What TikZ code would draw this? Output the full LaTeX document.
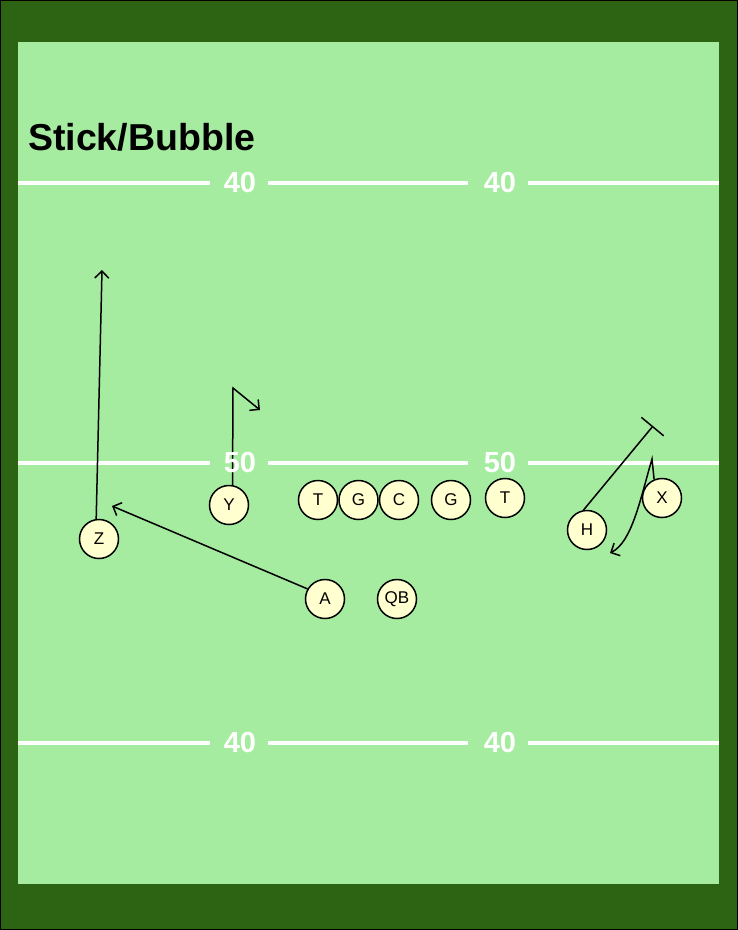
\documentclass[tikz,border=0pt]{standalone}
\usepackage{fontspec}
\setmainfont{Liberation Sans}
\usepackage{xcolor}
\definecolor{fielddark}{RGB}{45,100,20}
\definecolor{fieldlight}{RGB}{165,235,160}
\definecolor{playerfill}{RGB}{255,255,208}
\usetikzlibrary{arrows.meta,positioning}
\tikzset{
	player/.style={
		circle,
		draw=black,
		line width=1.5pt,
		fill=playerfill,
		minimum size=39pt,
		inner sep=0pt,
		font=\fontsize{17}{17}\selectfont,
	},
	yard/.style={
		draw=white,
		line width=4pt,
	},
	yardnum/.style={
		text=white,
		inner sep=0pt,
		font=\fontsize{29}{29}\selectfont\bfseries,
	},
	route/.style={
		line width=1.5pt,
		-{Straight Barb[length=7pt,width=14pt]},
	},
	block/.style={
		line width=1.5pt,
		-{Bar[width=29pt]},
	},
}
\begin{document}
\begin{tikzpicture}[x=1pt,y=-1pt]
	\useasboundingbox (0,0) rectangle (738,930);
	% field
	\draw[fill=fielddark,draw=black,line width=1pt] (0.5,0.5) rectangle (737.5,929.5);
	\fill[fieldlight] (18,42) rectangle (719,884);
	\node[anchor=base west,inner sep=0pt,font=\fontsize{37.5}{37.5}\selectfont\bfseries] (title) at (28,150) {Stick/Bubble};

	% yard lines
	\foreach \y in {183,463,743} {
		\draw[yard] (18,\y) -- (210,\y);
		\draw[yard] (268,\y) -- (468,\y);
		\draw[yard] (528,\y) -- (719,\y);
	}

	% offense
	\node[player] (lt) at (318,500) {T};
	\node[player,right=0pt of lt] (lg) {G};
	\node[player,right=0pt of lg] (c) {C};
	\node[player] (rg) at (451,500) {G};
	\node[player] (rt) at (505,498) {T};
	\node[player] (qb) at (397,599) {QB};
	\node[player] (a) at (325,599) {A};
	\node[player] (y) at (229,505) {Y};
	\node[player] (z) at (99,539) {Z};
	\node[player] (h) at (587,530) {H};
	\node[player] (x) at (662,498) {X};

	% routes
	\coordinate (zend) at (102,270);
	\coordinate (ybreak) at (233,388);
	\coordinate (yend) at (260,410);
	\coordinate (aend) at (112,506);
	\coordinate (hend) at (653,426);
	\coordinate (xtop) at (652,459);
	\coordinate (xend) at (610,553);

	\draw[route] (z.98) -- (zend);
	\draw[route] (y.80) -- (ybreak) -- (yend);
	\draw[route] (a.150) -- (aend);
	\draw[block] (h.100) -- (hend);
	\draw[route] (x.113) -- (xtop) .. controls (640,500) and (632,542) .. (xend);

	% yard numbers
	\foreach \y/\n in {183/40,463/50,743/40} {
		\node[yardnum] (num\y a) at (240,\y) {\n};
		\node[yardnum] (num\y b) at (500,\y) {\n};
	}
\end{tikzpicture}
\end{document}
